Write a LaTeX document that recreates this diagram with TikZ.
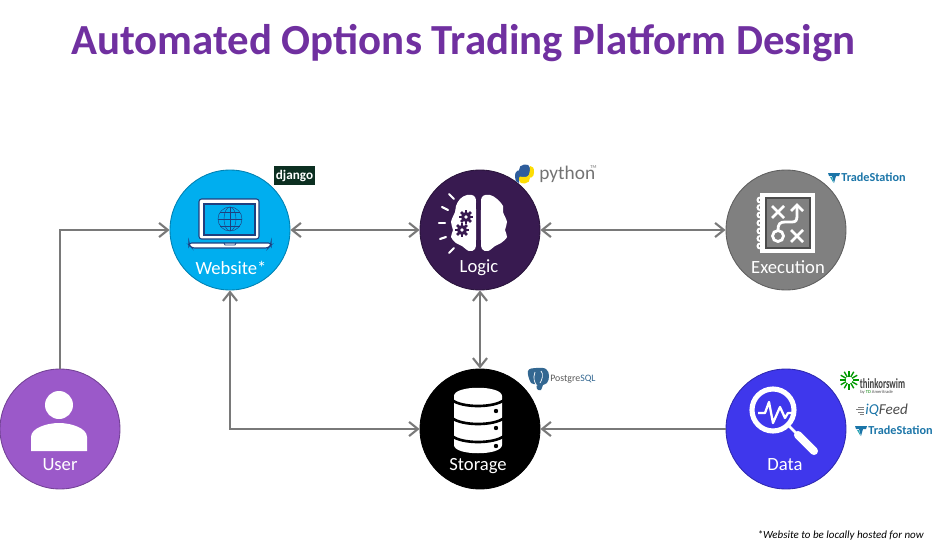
\documentclass[tikz,border=0pt]{standalone}
\usepackage{fontspec}
\setmainfont{Carlito}
\usepackage{xcolor}
\usetikzlibrary{arrows.meta}

\definecolor{titlepurple}{HTML}{7030A0}
\definecolor{userpurple}{HTML}{9B59C9}
\definecolor{websiteblue}{HTML}{00AEEF}
\definecolor{logicpurple}{HTML}{381A50}
\definecolor{datablue}{HTML}{3F37EC}
\definecolor{laptopnavy}{HTML}{1F3F7F}
\definecolor{djangogreen}{HTML}{0C2F21}
\definecolor{tsblue}{HTML}{1B75A8}
\definecolor{tsteal}{HTML}{2AA5B5}
\definecolor{pgblue}{HTML}{336791}

\newcommand{\tslogo}[1]{
    \fill[tsblue,shift={#1}] (0,0) -- (12,0) -- (11,3) -- (8,3) -- (6,10) -- (4,3) -- (1,3) -- cycle;
    \fill[tsteal,shift={#1}] (2,4) -- (4,4) -- (5.5,10) -- cycle;
}
\newcommand{\gearicon}[1]{
    \fill[logicpurple] #1 circle[radius=5];
    \foreach \a in {0,45,...,315}
        \draw[logicpurple,line width=1.5pt] #1 -- ++(\a:6.9);
    \fill[white] #1 circle[radius=1.8];
}

\begin{document}
\begin{tikzpicture}[x=0.02cm,y=-0.02cm,
    hub/.style={circle,minimum size=2.4cm,inner sep=0pt,draw=#1!75!black,line width=0.5pt,fill=#1},
    hublabel/.style={text=white,inner sep=0pt,font=\fontsize{10.6}{12}\selectfont},
    link/.style={draw=gray!95!black,line width=1.2pt,{Straight Barb[length=5pt,width=8pt]}-{Straight Barb[length=5pt,width=8pt]}},
    linkto/.style={draw=gray!95!black,line width=1.2pt,-{Straight Barb[length=5pt,width=8pt]}},
    tsname/.style={text=tsblue,inner sep=0pt,anchor=west,font=\fontsize{6.95}{9}\selectfont\bfseries},
]
    \useasboundingbox (0,0) rectangle (934,548);

    \node[text=titlepurple,inner sep=0pt,font=\fontsize{24.4}{28}\selectfont\bfseries] (title) at (463.5,43) {Automated Options Trading Platform Design};

    % main circles
    \node[hub=userpurple] (user) at (60,429) {};
    \node[hub=websiteblue] (website) at (230,230) {};
    \node[hub=logicpurple] (logic) at (480,230) {};
    \node[hub=gray] (execution) at (786,230) {};
    \node[hub=black] (storage) at (480,429) {};
    \node[hub=datablue] (data) at (786,429) {};

    \node[hublabel] (userlabel) at (60,465) {User};
    \node[hublabel] (websitelabel) at (231,268) {Website*};
    \node[hublabel] (logiclabel) at (479,268) {Logic};
    \node[hublabel] (executionlabel) at (788,267) {Execution};
    \node[hublabel] (storagelabel) at (478,466) {Storage};
    \node[hublabel] (datalabel) at (785,465) {Data};

    % connectors
    \draw[linkto] (user) |- (website);
    \draw[link] (website) -- (logic);
    \draw[link] (logic) -- (execution);
    \draw[link] (logic) -- (storage);
    \draw[link] (website) |- (storage);
    \draw[linkto] (data) -- (storage);

    % user icon
    \fill[white] (59,405) circle[radius=14];
    \fill[white] (31,451) -- (31,437) .. controls (31,428) and (47,423) .. (59,423) .. controls (71,423) and (87,428) .. (87,437) -- (87,451) -- cycle;

    % laptop
    \draw[laptopnavy,fill=white,line width=0.6pt,rounded corners=1.5pt] (199,199) rectangle (259,239);
    \draw[laptopnavy,fill=websiteblue,line width=0.6pt] (204,204) rectangle (255,235);
    \draw[laptopnavy,fill=white,line width=0.6pt,rounded corners=1.5pt] (189,243) -- (271,243) -- (271,245) -- (268,248) -- (192,248) -- (189,245) -- cycle;
    \draw[laptopnavy,line width=0.5pt] (224,243) -- (225,245) -- (235,245) -- (236,243);
    \begin{scope}[draw=laptopnavy,line width=0.25pt,double=white,double distance=0.45pt]
        \draw (230,219) circle[radius=12];
        \draw (230,219) ellipse[x radius=6,y radius=12];
        \draw (230,207) -- (230,231);
        \draw (218,219) -- (242,219);
        \draw (220,212) -- (240,212);
        \draw (220,226) -- (240,226);
    \end{scope}

    % brain
    \fill[white] plot[smooth cycle,tension=0.6] coordinates {(482,197) (490,195) (497,199) (503,206) (503,212) (507,222) (505,230) (507,237) (501,243) (495,246) (488,251) (482,249) (481,240) (481,210)};
    \fill[white] plot[smooth cycle,tension=0.6] coordinates {(475,197) (467,195) (460,199) (456,206) (455,212) (451,222) (453,230) (451,237) (456,243) (462,246) (469,251) (475,249) (476,240) (476,210)};
    \gearicon{(466,217)}
    \gearicon{(462,230)}
    \foreach \xa/\ya/\xb/\yb in {449/194/454/199,442/207/448/210,439/223/445/223,440/239/446/237,449/253/454/248}
        \draw[white,line width=1.2pt,line cap=round] (\xa,\ya) -- (\xb,\yb);

    % playbook
    \foreach \y in {200,207.5,215,223,231,238.5,246}
        \draw[white,line width=1.1pt] (760,\y-2.5) arc[start angle=-90,end angle=-270,radius=2.5];
    \fill[white] (760,193) rectangle (815,253);
    \draw[black!70,fill=gray,line width=0.6pt] (766,198) rectangle (810,248);
    \begin{scope}[white,line width=1.6pt]
        \draw (772,206) -- (784,218) (784,206) -- (772,218);
        \draw (791,230) -- (803,242) (803,230) -- (791,242);
        \draw (778,236) circle[radius=5.5];
        \draw (778,230) .. controls (778,224) and (780,222) .. (785,222) -- (792,222) .. controls (796,222) and (797,220) .. (797,216) -- (797,207);
        \draw (791,211) -- (797,205) -- (803,211);
    \end{scope}

    % database
    \fill[white] (454,396) .. controls (454,385) and (502,385) .. (502,396) -- (502,445) .. controls (502,456) and (454,456) .. (454,445) -- cycle;
    \foreach \y in {400,418,436}
        \draw[black,line width=1.5pt] (452,\y) .. controls (462,\y+8) and (494,\y+8) .. (504,\y);
    \foreach \y in {411,428,446}
        \fill[black] (496,\y) circle[radius=2.2];

    % magnifier
    \draw[white,line width=2.9pt] (773,410) circle[radius=21];
    \draw[white,line width=1.6pt] (788,425) -- (797,434);
    \draw[white,line width=4.6pt,line cap=round] (798,435) -- (814,451);
    \draw[white,line width=1.3pt,line join=round] (758,413) -- (765,413) -- (769,402) -- (773,423) -- (780,407) -- (785,418) -- (788,413) -- (795,413);

    % django logo
    \node[fill=djangogreen,text=white,minimum width=0.82cm,minimum height=0.38cm,inner sep=0pt,font=\fontsize{7.5}{9}\selectfont\bfseries] (django) at (294.5,175.5) {django};

    % python logo
    \fill[pgblue!90!blue] (515,177) .. controls (515,170) and (518,170) .. (524,170) -- (519,170) .. controls (518,164) and (530,162) .. (530,168) -- (530,174) .. controls (530,177) and (527,177) .. (524,177) .. controls (520,177) and (519,179) .. (519,183) .. controls (516,183) and (515,180) .. (515,177) -- cycle;
    \fill[yellow!80!orange] (534,172) .. controls (534,178) and (531,178) .. (525,178) -- (530,178) .. controls (531,184) and (519,186) .. (519,180) -- (519,178) .. controls (520,175) and (522,178) .. (525,177) .. controls (529,177) and (530,174) .. (530,166) .. controls (533,166) and (534,168) .. (534,172) -- cycle;
    \node[text=black!55,inner sep=0pt,anchor=west,font=\fontsize{11}{13}\selectfont] (python) at (539,174) {python};
    \node[text=black!55,inner sep=0pt,anchor=west,font=\fontsize{2.6}{4}\selectfont] (pythontm) at (590,167) {TM};

    % tradestation logos
    \tslogo{(828,173)}
    \node[tsname] (tradestationa) at (841,177) {TradeStation};
    \tslogo{(855,426)}
    \node[tsname] (tradestationb) at (868,430) {TradeStation};

    % postgres logo
    \fill[pgblue] plot[smooth cycle,tension=0.7] coordinates {(528,371) (536,368) (546,369) (549,376) (547,383) (543,385) (541,390) (537,389) (536,384) (531,383)};
    \draw[white,line width=0.4pt] (535,372) .. controls (533,378) and (534,382) .. (537,386);
    \draw[white,line width=0.4pt] (541,371) .. controls (544,374) and (542,380) .. (540,383);
    \node[inner sep=0pt,anchor=west,font=\fontsize{5.6}{7}\selectfont] (postgres) at (550,379) {\textcolor{black!65}{Postgre}\textcolor{pgblue}{SQL}};

    % thinkorswim logo
    \foreach \a in {0,30,...,330}
        \draw[green!60!black,line width=0.8pt] (849,380) ++(\a:3.5) -- ++(\a:6);
    \node[text=black!75,inner sep=0pt,anchor=west,font=\fontsize{8}{9}\selectfont\bfseries] (thinkorswim) at (859.5,384) {\scalebox{0.62}[1]{thinkorswim}};
    \node[text=black!70,inner sep=0pt,anchor=west,font=\fontsize{2.6}{3}\selectfont] (tdname) at (860,392) {by \textcolor{green!50!black}{TD} Ameritrade};

    % iqfeed logo
    \foreach \y/\l in {407/6,409.5/8,412/6,414.5/4}
        \draw[gray,line width=0.4pt] (864-\l,\y) -- (864,\y);
    \node[inner sep=0pt,anchor=west,font=\fontsize{8.6}{10}\selectfont\itshape] (iqfeed) at (865,410) {\textcolor{tsblue}{iQ}\textcolor{black!70}{Feed}};

    \node[inner sep=0pt,anchor=east,font=\fontsize{6.25}{7}\selectfont\itshape] (footnote) at (924,535) {*Website to be locally hosted for now};
\end{tikzpicture}
\end{document}
